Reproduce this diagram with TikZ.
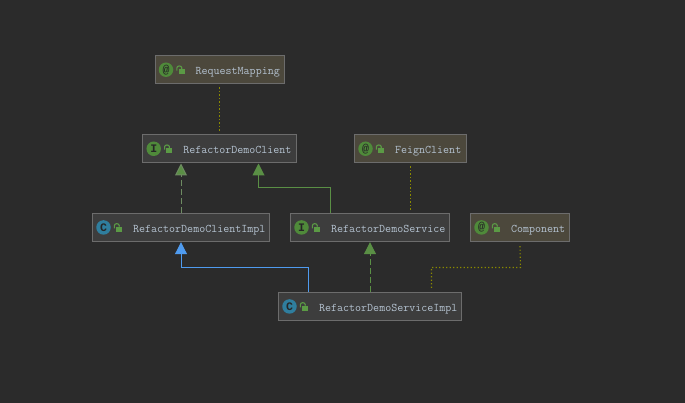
\documentclass[tikz,border=0pt]{standalone}
\usepackage{fontspec}
\newfontfamily\iconfont{Liberation Mono}[BoldFont={Liberation Mono Bold}]
\usetikzlibrary{arrows.meta,calc}
\definecolor{bgc}{HTML}{2B2B2B}
\definecolor{boxfill}{HTML}{3D3D3D}
\definecolor{annofill}{HTML}{4C483C}
\definecolor{edge}{HTML}{6C6C6C}
\definecolor{labelc}{HTML}{B4C2D0}
\definecolor{greenc}{HTML}{5A8F45}
\definecolor{dashg}{HTML}{6E8B62}
\definecolor{bluec}{HTML}{4F9BEF}
\definecolor{olivec}{HTML}{8A8A00}
\definecolor{iconI}{HTML}{4F8A3A}
\definecolor{iconC}{HTML}{2F7E9E}
\definecolor{lockc}{HTML}{5B9A45}
\tikzset{
  classbox/.style={draw=edge,line width=1pt,fill=boxfill,inner sep=0pt,minimum height=28.5pt},
  annobox/.style={classbox,fill=annofill},
  nametext/.style={font=\ttfamily\fontsize{11.66}{11.66}\selectfont,text=labelc,inner sep=0pt,anchor=west,text height=8pt,text depth=2pt},
  icontext/.style={font=\iconfont\bfseries\fontsize{11.5}{11.5}\selectfont,text=black!85,inner sep=0pt},
  greentip/.style={-{Triangle[width=12pt,length=12pt,fill=greenc]}},
  inherit/.style={greentip,draw=greenc,line width=1pt},
  impl/.style={greentip,draw=dashg,line width=1pt,dash pattern=on 6pt off 3pt},
  implstrong/.style={greentip,draw=greenc,line width=1pt,dash pattern=on 6pt off 3pt},
  extendblue/.style={-{Triangle[width=12pt,length=12pt,fill=bluec]},draw=bluec,line width=1pt},
  annolink/.style={draw=olivec,line width=1.1pt,dash pattern=on 1.1pt off 2.4pt},
  lockpic/.pic={
    \fill[lockc] (-2,-0.8) rectangle (4.2,4.6);
    \draw[lockc,line width=1.1pt] (-3.6,1) -- (-3.6,-2) arc[start angle=180,end angle=0,x radius=2.4,y radius=-1.8] -- (1.2,-0.8);
  }
}
\newcommand{\umlnode}[8]{%
  % name, style, x0, y0, width, icon colour, icon letter, text
  \node[#2,minimum width=#5pt] (#1) at (#3+#5/2,#4+14.25) {};
  \node[nametext] (#1-name) at ([xshift=41pt,yshift=-2pt]#1.west) {#8};
  \node[circle,fill=#6,minimum size=14.5pt,inner sep=0pt] (#1-icon) at ([xshift=11.5pt]#1.west) {};
  \node[icontext] (#1-letter) at (#1-icon) {#7};
  \pic at ([xshift=26pt]#1.west) {lockpic};
}
\begin{document}
\begin{tikzpicture}[x=1pt,y=-1pt]
\useasboundingbox[fill=bgc] (0,0) rectangle (685,403);
\umlnode{rm}{annobox}{155}{55.5}{129}{iconI}{@}{RequestMapping}
\umlnode{client}{classbox}{142.7}{134.5}{153.6}{iconI}{I}{RefactorDemoClient}
\umlnode{feign}{annobox}{354.5}{134.5}{112}{iconI}{@}{FeignClient}
\umlnode{cimpl}{classbox}{92.5}{213.2}{176.8}{iconC}{C}{RefactorDemoClientImpl}
\umlnode{service}{classbox}{290.5}{213.2}{159}{iconI}{I}{RefactorDemoService}
\umlnode{comp}{annobox}{470.5}{213.2}{99}{iconI}{@}{Component}
\umlnode{simpl}{classbox}{278.5}{292.2}{183}{iconC}{C}{RefactorDemoServiceImpl}
\coordinate (bendA) at (330.5,188);
\coordinate (bendB) at (258.5,188);
\coordinate (bendC) at (308.5,267.5);
\coordinate (bendD) at (181,267.5);
\coordinate (bendE) at (520.5,267.5);
\coordinate (bendF) at (431.5,267.5);
\draw[annolink] ($(rm.south)+(0,3)$) -- ($(client.north)+(0,-2)$);
\draw[annolink] ($(feign.south)+(0,3)$) -- ($(service.north -| feign.south)+(0,-1)$);
\draw[annolink] ($(comp.south)+(0,4)$) -- (bendE) -- (bendF) -- ($(simpl.north -| bendF)+(0,-2)$);
\draw[impl] (cimpl.north -| bendD) -- (client.south -| bendD);
\draw[inherit] (service.north -| bendA) -- (bendA) -- (bendB) -- (client.south -| bendB);
\draw[extendblue] (simpl.north -| bendC) -- (bendC) -- (bendD) -- (cimpl.south -| bendD);
\draw[implstrong] (simpl.north -| 370,0) -- (service.south -| 370,0);
\end{tikzpicture}
\end{document}
